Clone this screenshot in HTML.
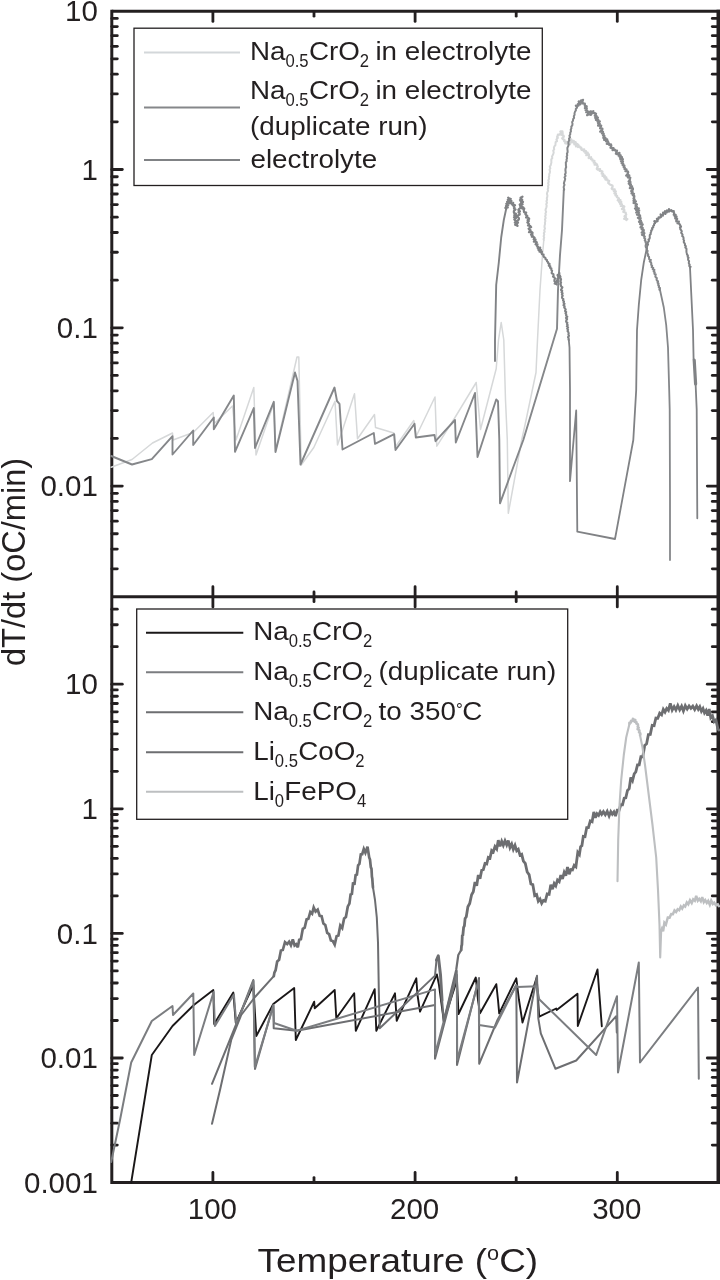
<!DOCTYPE html>
<html><head><meta charset="utf-8"><title>dT/dt vs Temperature</title>
<style>
html,body{margin:0;padding:0;background:#fff;width:720px;height:1280px;overflow:hidden}
svg{display:block}
text{font-family:'Liberation Sans',Arial,Helvetica,sans-serif}
</style></head><body>
<svg width="720" height="1280" viewBox="0 0 720 1280">
<rect width="720" height="1280" fill="#fff"/>
<g id="legends-bg"></g>
<g id="axes">
<line x1="111.80" y1="9.80" x2="111.80" y2="1184.00" stroke="#231f20" stroke-width="3.0" stroke-linecap="butt"/>
<line x1="718.30" y1="9.80" x2="718.30" y2="1184.00" stroke="#231f20" stroke-width="3.6" stroke-linecap="butt"/>
<line x1="111.80" y1="11.30" x2="720.00" y2="11.30" stroke="#231f20" stroke-width="3.0" stroke-linecap="butt"/>
<line x1="111.80" y1="596.80" x2="720.00" y2="596.80" stroke="#231f20" stroke-width="3.0" stroke-linecap="butt"/>
<line x1="111.80" y1="1182.50" x2="720.00" y2="1182.50" stroke="#231f20" stroke-width="3.0" stroke-linecap="butt"/>
<line x1="212.90" y1="11.30" x2="212.90" y2="21.40" stroke="#231f20" stroke-width="2.8" stroke-linecap="round"/>
<line x1="212.90" y1="586.70" x2="212.90" y2="606.90" stroke="#231f20" stroke-width="2.8" stroke-linecap="round"/>
<line x1="212.90" y1="1182.50" x2="212.90" y2="1172.40" stroke="#231f20" stroke-width="2.8" stroke-linecap="round"/>
<line x1="314.00" y1="11.30" x2="314.00" y2="16.20" stroke="#231f20" stroke-width="2.8" stroke-linecap="round"/>
<line x1="314.00" y1="591.90" x2="314.00" y2="601.70" stroke="#231f20" stroke-width="2.8" stroke-linecap="round"/>
<line x1="314.00" y1="1182.50" x2="314.00" y2="1177.60" stroke="#231f20" stroke-width="2.8" stroke-linecap="round"/>
<line x1="415.10" y1="11.30" x2="415.10" y2="21.40" stroke="#231f20" stroke-width="2.8" stroke-linecap="round"/>
<line x1="415.10" y1="586.70" x2="415.10" y2="606.90" stroke="#231f20" stroke-width="2.8" stroke-linecap="round"/>
<line x1="415.10" y1="1182.50" x2="415.10" y2="1172.40" stroke="#231f20" stroke-width="2.8" stroke-linecap="round"/>
<line x1="516.20" y1="11.30" x2="516.20" y2="16.20" stroke="#231f20" stroke-width="2.8" stroke-linecap="round"/>
<line x1="516.20" y1="591.90" x2="516.20" y2="601.70" stroke="#231f20" stroke-width="2.8" stroke-linecap="round"/>
<line x1="516.20" y1="1182.50" x2="516.20" y2="1177.60" stroke="#231f20" stroke-width="2.8" stroke-linecap="round"/>
<line x1="617.30" y1="11.30" x2="617.30" y2="21.40" stroke="#231f20" stroke-width="2.8" stroke-linecap="round"/>
<line x1="617.30" y1="586.70" x2="617.30" y2="606.90" stroke="#231f20" stroke-width="2.8" stroke-linecap="round"/>
<line x1="617.30" y1="1182.50" x2="617.30" y2="1172.40" stroke="#231f20" stroke-width="2.8" stroke-linecap="round"/>
<line x1="111.80" y1="568.87" x2="117.30" y2="568.87" stroke="#231f20" stroke-width="2.8" stroke-linecap="round"/>
<line x1="718.30" y1="568.87" x2="712.30" y2="568.87" stroke="#231f20" stroke-width="2.8" stroke-linecap="round"/>
<line x1="111.80" y1="549.09" x2="117.30" y2="549.09" stroke="#231f20" stroke-width="2.8" stroke-linecap="round"/>
<line x1="718.30" y1="549.09" x2="712.30" y2="549.09" stroke="#231f20" stroke-width="2.8" stroke-linecap="round"/>
<line x1="111.80" y1="533.75" x2="117.30" y2="533.75" stroke="#231f20" stroke-width="2.8" stroke-linecap="round"/>
<line x1="718.30" y1="533.75" x2="712.30" y2="533.75" stroke="#231f20" stroke-width="2.8" stroke-linecap="round"/>
<line x1="111.80" y1="521.22" x2="117.30" y2="521.22" stroke="#231f20" stroke-width="2.8" stroke-linecap="round"/>
<line x1="718.30" y1="521.22" x2="712.30" y2="521.22" stroke="#231f20" stroke-width="2.8" stroke-linecap="round"/>
<line x1="111.80" y1="510.62" x2="117.30" y2="510.62" stroke="#231f20" stroke-width="2.8" stroke-linecap="round"/>
<line x1="718.30" y1="510.62" x2="712.30" y2="510.62" stroke="#231f20" stroke-width="2.8" stroke-linecap="round"/>
<line x1="111.80" y1="501.44" x2="117.30" y2="501.44" stroke="#231f20" stroke-width="2.8" stroke-linecap="round"/>
<line x1="718.30" y1="501.44" x2="712.30" y2="501.44" stroke="#231f20" stroke-width="2.8" stroke-linecap="round"/>
<line x1="111.80" y1="493.34" x2="117.30" y2="493.34" stroke="#231f20" stroke-width="2.8" stroke-linecap="round"/>
<line x1="718.30" y1="493.34" x2="712.30" y2="493.34" stroke="#231f20" stroke-width="2.8" stroke-linecap="round"/>
<line x1="111.80" y1="486.10" x2="122.30" y2="486.10" stroke="#231f20" stroke-width="2.8" stroke-linecap="round"/>
<line x1="718.30" y1="486.10" x2="707.30" y2="486.10" stroke="#231f20" stroke-width="2.8" stroke-linecap="round"/>
<line x1="111.80" y1="438.45" x2="117.30" y2="438.45" stroke="#231f20" stroke-width="2.8" stroke-linecap="round"/>
<line x1="718.30" y1="438.45" x2="712.30" y2="438.45" stroke="#231f20" stroke-width="2.8" stroke-linecap="round"/>
<line x1="111.80" y1="410.57" x2="117.30" y2="410.57" stroke="#231f20" stroke-width="2.8" stroke-linecap="round"/>
<line x1="718.30" y1="410.57" x2="712.30" y2="410.57" stroke="#231f20" stroke-width="2.8" stroke-linecap="round"/>
<line x1="111.80" y1="390.79" x2="117.30" y2="390.79" stroke="#231f20" stroke-width="2.8" stroke-linecap="round"/>
<line x1="718.30" y1="390.79" x2="712.30" y2="390.79" stroke="#231f20" stroke-width="2.8" stroke-linecap="round"/>
<line x1="111.80" y1="375.45" x2="117.30" y2="375.45" stroke="#231f20" stroke-width="2.8" stroke-linecap="round"/>
<line x1="718.30" y1="375.45" x2="712.30" y2="375.45" stroke="#231f20" stroke-width="2.8" stroke-linecap="round"/>
<line x1="111.80" y1="362.92" x2="117.30" y2="362.92" stroke="#231f20" stroke-width="2.8" stroke-linecap="round"/>
<line x1="718.30" y1="362.92" x2="712.30" y2="362.92" stroke="#231f20" stroke-width="2.8" stroke-linecap="round"/>
<line x1="111.80" y1="352.32" x2="117.30" y2="352.32" stroke="#231f20" stroke-width="2.8" stroke-linecap="round"/>
<line x1="718.30" y1="352.32" x2="712.30" y2="352.32" stroke="#231f20" stroke-width="2.8" stroke-linecap="round"/>
<line x1="111.80" y1="343.14" x2="117.30" y2="343.14" stroke="#231f20" stroke-width="2.8" stroke-linecap="round"/>
<line x1="718.30" y1="343.14" x2="712.30" y2="343.14" stroke="#231f20" stroke-width="2.8" stroke-linecap="round"/>
<line x1="111.80" y1="335.04" x2="117.30" y2="335.04" stroke="#231f20" stroke-width="2.8" stroke-linecap="round"/>
<line x1="718.30" y1="335.04" x2="712.30" y2="335.04" stroke="#231f20" stroke-width="2.8" stroke-linecap="round"/>
<line x1="111.80" y1="327.80" x2="122.30" y2="327.80" stroke="#231f20" stroke-width="2.8" stroke-linecap="round"/>
<line x1="718.30" y1="327.80" x2="707.30" y2="327.80" stroke="#231f20" stroke-width="2.8" stroke-linecap="round"/>
<line x1="111.80" y1="280.15" x2="117.30" y2="280.15" stroke="#231f20" stroke-width="2.8" stroke-linecap="round"/>
<line x1="718.30" y1="280.15" x2="712.30" y2="280.15" stroke="#231f20" stroke-width="2.8" stroke-linecap="round"/>
<line x1="111.80" y1="252.27" x2="117.30" y2="252.27" stroke="#231f20" stroke-width="2.8" stroke-linecap="round"/>
<line x1="718.30" y1="252.27" x2="712.30" y2="252.27" stroke="#231f20" stroke-width="2.8" stroke-linecap="round"/>
<line x1="111.80" y1="232.49" x2="117.30" y2="232.49" stroke="#231f20" stroke-width="2.8" stroke-linecap="round"/>
<line x1="718.30" y1="232.49" x2="712.30" y2="232.49" stroke="#231f20" stroke-width="2.8" stroke-linecap="round"/>
<line x1="111.80" y1="217.15" x2="117.30" y2="217.15" stroke="#231f20" stroke-width="2.8" stroke-linecap="round"/>
<line x1="718.30" y1="217.15" x2="712.30" y2="217.15" stroke="#231f20" stroke-width="2.8" stroke-linecap="round"/>
<line x1="111.80" y1="204.62" x2="117.30" y2="204.62" stroke="#231f20" stroke-width="2.8" stroke-linecap="round"/>
<line x1="718.30" y1="204.62" x2="712.30" y2="204.62" stroke="#231f20" stroke-width="2.8" stroke-linecap="round"/>
<line x1="111.80" y1="194.02" x2="117.30" y2="194.02" stroke="#231f20" stroke-width="2.8" stroke-linecap="round"/>
<line x1="718.30" y1="194.02" x2="712.30" y2="194.02" stroke="#231f20" stroke-width="2.8" stroke-linecap="round"/>
<line x1="111.80" y1="184.84" x2="117.30" y2="184.84" stroke="#231f20" stroke-width="2.8" stroke-linecap="round"/>
<line x1="718.30" y1="184.84" x2="712.30" y2="184.84" stroke="#231f20" stroke-width="2.8" stroke-linecap="round"/>
<line x1="111.80" y1="176.74" x2="117.30" y2="176.74" stroke="#231f20" stroke-width="2.8" stroke-linecap="round"/>
<line x1="718.30" y1="176.74" x2="712.30" y2="176.74" stroke="#231f20" stroke-width="2.8" stroke-linecap="round"/>
<line x1="111.80" y1="169.50" x2="122.30" y2="169.50" stroke="#231f20" stroke-width="2.8" stroke-linecap="round"/>
<line x1="718.30" y1="169.50" x2="707.30" y2="169.50" stroke="#231f20" stroke-width="2.8" stroke-linecap="round"/>
<line x1="111.80" y1="121.85" x2="117.30" y2="121.85" stroke="#231f20" stroke-width="2.8" stroke-linecap="round"/>
<line x1="718.30" y1="121.85" x2="712.30" y2="121.85" stroke="#231f20" stroke-width="2.8" stroke-linecap="round"/>
<line x1="111.80" y1="93.97" x2="117.30" y2="93.97" stroke="#231f20" stroke-width="2.8" stroke-linecap="round"/>
<line x1="718.30" y1="93.97" x2="712.30" y2="93.97" stroke="#231f20" stroke-width="2.8" stroke-linecap="round"/>
<line x1="111.80" y1="74.19" x2="117.30" y2="74.19" stroke="#231f20" stroke-width="2.8" stroke-linecap="round"/>
<line x1="718.30" y1="74.19" x2="712.30" y2="74.19" stroke="#231f20" stroke-width="2.8" stroke-linecap="round"/>
<line x1="111.80" y1="58.85" x2="117.30" y2="58.85" stroke="#231f20" stroke-width="2.8" stroke-linecap="round"/>
<line x1="718.30" y1="58.85" x2="712.30" y2="58.85" stroke="#231f20" stroke-width="2.8" stroke-linecap="round"/>
<line x1="111.80" y1="46.32" x2="117.30" y2="46.32" stroke="#231f20" stroke-width="2.8" stroke-linecap="round"/>
<line x1="718.30" y1="46.32" x2="712.30" y2="46.32" stroke="#231f20" stroke-width="2.8" stroke-linecap="round"/>
<line x1="111.80" y1="35.72" x2="117.30" y2="35.72" stroke="#231f20" stroke-width="2.8" stroke-linecap="round"/>
<line x1="718.30" y1="35.72" x2="712.30" y2="35.72" stroke="#231f20" stroke-width="2.8" stroke-linecap="round"/>
<line x1="111.80" y1="26.54" x2="117.30" y2="26.54" stroke="#231f20" stroke-width="2.8" stroke-linecap="round"/>
<line x1="718.30" y1="26.54" x2="712.30" y2="26.54" stroke="#231f20" stroke-width="2.8" stroke-linecap="round"/>
<line x1="111.80" y1="18.44" x2="117.30" y2="18.44" stroke="#231f20" stroke-width="2.8" stroke-linecap="round"/>
<line x1="718.30" y1="18.44" x2="712.30" y2="18.44" stroke="#231f20" stroke-width="2.8" stroke-linecap="round"/>
<line x1="111.80" y1="1145.09" x2="117.30" y2="1145.09" stroke="#231f20" stroke-width="2.8" stroke-linecap="round"/>
<line x1="718.30" y1="1145.09" x2="712.30" y2="1145.09" stroke="#231f20" stroke-width="2.8" stroke-linecap="round"/>
<line x1="111.80" y1="1123.15" x2="117.30" y2="1123.15" stroke="#231f20" stroke-width="2.8" stroke-linecap="round"/>
<line x1="718.30" y1="1123.15" x2="712.30" y2="1123.15" stroke="#231f20" stroke-width="2.8" stroke-linecap="round"/>
<line x1="111.80" y1="1107.58" x2="117.30" y2="1107.58" stroke="#231f20" stroke-width="2.8" stroke-linecap="round"/>
<line x1="718.30" y1="1107.58" x2="712.30" y2="1107.58" stroke="#231f20" stroke-width="2.8" stroke-linecap="round"/>
<line x1="111.80" y1="1095.51" x2="117.30" y2="1095.51" stroke="#231f20" stroke-width="2.8" stroke-linecap="round"/>
<line x1="718.30" y1="1095.51" x2="712.30" y2="1095.51" stroke="#231f20" stroke-width="2.8" stroke-linecap="round"/>
<line x1="111.80" y1="1085.64" x2="117.30" y2="1085.64" stroke="#231f20" stroke-width="2.8" stroke-linecap="round"/>
<line x1="718.30" y1="1085.64" x2="712.30" y2="1085.64" stroke="#231f20" stroke-width="2.8" stroke-linecap="round"/>
<line x1="111.80" y1="1077.30" x2="117.30" y2="1077.30" stroke="#231f20" stroke-width="2.8" stroke-linecap="round"/>
<line x1="718.30" y1="1077.30" x2="712.30" y2="1077.30" stroke="#231f20" stroke-width="2.8" stroke-linecap="round"/>
<line x1="111.80" y1="1070.07" x2="117.30" y2="1070.07" stroke="#231f20" stroke-width="2.8" stroke-linecap="round"/>
<line x1="718.30" y1="1070.07" x2="712.30" y2="1070.07" stroke="#231f20" stroke-width="2.8" stroke-linecap="round"/>
<line x1="111.80" y1="1063.70" x2="117.30" y2="1063.70" stroke="#231f20" stroke-width="2.8" stroke-linecap="round"/>
<line x1="718.30" y1="1063.70" x2="712.30" y2="1063.70" stroke="#231f20" stroke-width="2.8" stroke-linecap="round"/>
<line x1="111.80" y1="1058.00" x2="122.30" y2="1058.00" stroke="#231f20" stroke-width="2.8" stroke-linecap="round"/>
<line x1="718.30" y1="1058.00" x2="707.30" y2="1058.00" stroke="#231f20" stroke-width="2.8" stroke-linecap="round"/>
<line x1="111.80" y1="1020.49" x2="117.30" y2="1020.49" stroke="#231f20" stroke-width="2.8" stroke-linecap="round"/>
<line x1="718.30" y1="1020.49" x2="712.30" y2="1020.49" stroke="#231f20" stroke-width="2.8" stroke-linecap="round"/>
<line x1="111.80" y1="998.55" x2="117.30" y2="998.55" stroke="#231f20" stroke-width="2.8" stroke-linecap="round"/>
<line x1="718.30" y1="998.55" x2="712.30" y2="998.55" stroke="#231f20" stroke-width="2.8" stroke-linecap="round"/>
<line x1="111.80" y1="982.98" x2="117.30" y2="982.98" stroke="#231f20" stroke-width="2.8" stroke-linecap="round"/>
<line x1="718.30" y1="982.98" x2="712.30" y2="982.98" stroke="#231f20" stroke-width="2.8" stroke-linecap="round"/>
<line x1="111.80" y1="970.91" x2="117.30" y2="970.91" stroke="#231f20" stroke-width="2.8" stroke-linecap="round"/>
<line x1="718.30" y1="970.91" x2="712.30" y2="970.91" stroke="#231f20" stroke-width="2.8" stroke-linecap="round"/>
<line x1="111.80" y1="961.04" x2="117.30" y2="961.04" stroke="#231f20" stroke-width="2.8" stroke-linecap="round"/>
<line x1="718.30" y1="961.04" x2="712.30" y2="961.04" stroke="#231f20" stroke-width="2.8" stroke-linecap="round"/>
<line x1="111.80" y1="952.70" x2="117.30" y2="952.70" stroke="#231f20" stroke-width="2.8" stroke-linecap="round"/>
<line x1="718.30" y1="952.70" x2="712.30" y2="952.70" stroke="#231f20" stroke-width="2.8" stroke-linecap="round"/>
<line x1="111.80" y1="945.47" x2="117.30" y2="945.47" stroke="#231f20" stroke-width="2.8" stroke-linecap="round"/>
<line x1="718.30" y1="945.47" x2="712.30" y2="945.47" stroke="#231f20" stroke-width="2.8" stroke-linecap="round"/>
<line x1="111.80" y1="939.10" x2="117.30" y2="939.10" stroke="#231f20" stroke-width="2.8" stroke-linecap="round"/>
<line x1="718.30" y1="939.10" x2="712.30" y2="939.10" stroke="#231f20" stroke-width="2.8" stroke-linecap="round"/>
<line x1="111.80" y1="933.40" x2="122.30" y2="933.40" stroke="#231f20" stroke-width="2.8" stroke-linecap="round"/>
<line x1="718.30" y1="933.40" x2="707.30" y2="933.40" stroke="#231f20" stroke-width="2.8" stroke-linecap="round"/>
<line x1="111.80" y1="895.89" x2="117.30" y2="895.89" stroke="#231f20" stroke-width="2.8" stroke-linecap="round"/>
<line x1="718.30" y1="895.89" x2="712.30" y2="895.89" stroke="#231f20" stroke-width="2.8" stroke-linecap="round"/>
<line x1="111.80" y1="873.95" x2="117.30" y2="873.95" stroke="#231f20" stroke-width="2.8" stroke-linecap="round"/>
<line x1="718.30" y1="873.95" x2="712.30" y2="873.95" stroke="#231f20" stroke-width="2.8" stroke-linecap="round"/>
<line x1="111.80" y1="858.38" x2="117.30" y2="858.38" stroke="#231f20" stroke-width="2.8" stroke-linecap="round"/>
<line x1="718.30" y1="858.38" x2="712.30" y2="858.38" stroke="#231f20" stroke-width="2.8" stroke-linecap="round"/>
<line x1="111.80" y1="846.31" x2="117.30" y2="846.31" stroke="#231f20" stroke-width="2.8" stroke-linecap="round"/>
<line x1="718.30" y1="846.31" x2="712.30" y2="846.31" stroke="#231f20" stroke-width="2.8" stroke-linecap="round"/>
<line x1="111.80" y1="836.44" x2="117.30" y2="836.44" stroke="#231f20" stroke-width="2.8" stroke-linecap="round"/>
<line x1="718.30" y1="836.44" x2="712.30" y2="836.44" stroke="#231f20" stroke-width="2.8" stroke-linecap="round"/>
<line x1="111.80" y1="828.10" x2="117.30" y2="828.10" stroke="#231f20" stroke-width="2.8" stroke-linecap="round"/>
<line x1="718.30" y1="828.10" x2="712.30" y2="828.10" stroke="#231f20" stroke-width="2.8" stroke-linecap="round"/>
<line x1="111.80" y1="820.87" x2="117.30" y2="820.87" stroke="#231f20" stroke-width="2.8" stroke-linecap="round"/>
<line x1="718.30" y1="820.87" x2="712.30" y2="820.87" stroke="#231f20" stroke-width="2.8" stroke-linecap="round"/>
<line x1="111.80" y1="814.50" x2="117.30" y2="814.50" stroke="#231f20" stroke-width="2.8" stroke-linecap="round"/>
<line x1="718.30" y1="814.50" x2="712.30" y2="814.50" stroke="#231f20" stroke-width="2.8" stroke-linecap="round"/>
<line x1="111.80" y1="808.80" x2="122.30" y2="808.80" stroke="#231f20" stroke-width="2.8" stroke-linecap="round"/>
<line x1="718.30" y1="808.80" x2="707.30" y2="808.80" stroke="#231f20" stroke-width="2.8" stroke-linecap="round"/>
<line x1="111.80" y1="771.29" x2="117.30" y2="771.29" stroke="#231f20" stroke-width="2.8" stroke-linecap="round"/>
<line x1="718.30" y1="771.29" x2="712.30" y2="771.29" stroke="#231f20" stroke-width="2.8" stroke-linecap="round"/>
<line x1="111.80" y1="749.35" x2="117.30" y2="749.35" stroke="#231f20" stroke-width="2.8" stroke-linecap="round"/>
<line x1="718.30" y1="749.35" x2="712.30" y2="749.35" stroke="#231f20" stroke-width="2.8" stroke-linecap="round"/>
<line x1="111.80" y1="733.78" x2="117.30" y2="733.78" stroke="#231f20" stroke-width="2.8" stroke-linecap="round"/>
<line x1="718.30" y1="733.78" x2="712.30" y2="733.78" stroke="#231f20" stroke-width="2.8" stroke-linecap="round"/>
<line x1="111.80" y1="721.71" x2="117.30" y2="721.71" stroke="#231f20" stroke-width="2.8" stroke-linecap="round"/>
<line x1="718.30" y1="721.71" x2="712.30" y2="721.71" stroke="#231f20" stroke-width="2.8" stroke-linecap="round"/>
<line x1="111.80" y1="711.84" x2="117.30" y2="711.84" stroke="#231f20" stroke-width="2.8" stroke-linecap="round"/>
<line x1="718.30" y1="711.84" x2="712.30" y2="711.84" stroke="#231f20" stroke-width="2.8" stroke-linecap="round"/>
<line x1="111.80" y1="703.50" x2="117.30" y2="703.50" stroke="#231f20" stroke-width="2.8" stroke-linecap="round"/>
<line x1="718.30" y1="703.50" x2="712.30" y2="703.50" stroke="#231f20" stroke-width="2.8" stroke-linecap="round"/>
<line x1="111.80" y1="696.27" x2="117.30" y2="696.27" stroke="#231f20" stroke-width="2.8" stroke-linecap="round"/>
<line x1="718.30" y1="696.27" x2="712.30" y2="696.27" stroke="#231f20" stroke-width="2.8" stroke-linecap="round"/>
<line x1="111.80" y1="689.90" x2="117.30" y2="689.90" stroke="#231f20" stroke-width="2.8" stroke-linecap="round"/>
<line x1="718.30" y1="689.90" x2="712.30" y2="689.90" stroke="#231f20" stroke-width="2.8" stroke-linecap="round"/>
<line x1="111.80" y1="684.20" x2="122.30" y2="684.20" stroke="#231f20" stroke-width="2.8" stroke-linecap="round"/>
<line x1="718.30" y1="684.20" x2="707.30" y2="684.20" stroke="#231f20" stroke-width="2.8" stroke-linecap="round"/>
<line x1="111.80" y1="646.69" x2="117.30" y2="646.69" stroke="#231f20" stroke-width="2.8" stroke-linecap="round"/>
<line x1="718.30" y1="646.69" x2="712.30" y2="646.69" stroke="#231f20" stroke-width="2.8" stroke-linecap="round"/>
<line x1="111.80" y1="624.75" x2="117.30" y2="624.75" stroke="#231f20" stroke-width="2.8" stroke-linecap="round"/>
<line x1="718.30" y1="624.75" x2="712.30" y2="624.75" stroke="#231f20" stroke-width="2.8" stroke-linecap="round"/>
<line x1="111.80" y1="609.18" x2="117.30" y2="609.18" stroke="#231f20" stroke-width="2.8" stroke-linecap="round"/>
<line x1="718.30" y1="609.18" x2="712.30" y2="609.18" stroke="#231f20" stroke-width="2.8" stroke-linecap="round"/>
</g>
<g id="curves">
<path d="M111.2 467.2 L132.0 459.5 L152.5 443.0 L172.5 433.0 L173.0 440.0 L193.2 432.5 L213.2 412.5 L213.8 424.0 L232.5 406.0 L236.0 440.0 L253.8 387.5 L256.0 455.0 L273.9 403.0 L275.5 451.0 L297.0 357.0 L298.8 357.0 L301.2 465.0 L313.8 447.5 L335.0 401.2 L337.5 445.0 L354.5 393.8 L357.5 438.8 L374.5 414.5 L375.5 427.5 L393.8 433.0 L395.0 447.5 L413.8 420.5 L416.2 436.2 L435.0 397.0 L436.8 446.2 L455.0 417.5 L476.2 382.5 L480.5 429.5 L496.2 368.8 L498.5 340.0 L501.2 322.5 L503.8 340.0 L505.5 400.0 L507.3 440.0 L508.3 513.3 L521.7 440.0 L525.0 425.0 L536.0 372.5 L537.5 340.0 L540.0 290.0 L542.5 255.0 L543.8 240.0" fill="none" stroke="#d6d8d9" stroke-width="1.5" stroke-linejoin="round" stroke-miterlimit="3" stroke-linecap="round" />
<path d="M543.8 240.0 L543.6 239.2 L544.2 237.7 L543.6 236.2 L544.3 234.7 L543.8 233.1 L544.7 231.7 L544.2 230.1 L545.0 228.6 L544.5 227.1 L544.6 225.5 L545.1 224.0 L544.9 222.5 L545.4 221.0 L544.9 219.4 L545.7 218.0 L545.1 216.4 L545.8 214.9 L545.4 213.4 L546.2 211.9 L545.5 210.3 L545.8 208.8 L546.4 207.3 L546.7 205.8 L546.2 204.2 L547.0 202.8 L546.4 201.2 L547.1 199.8 L546.8 198.2 L547.3 196.8 L547.4 195.3 L546.9 193.7 L547.3 192.2 L548.1 190.8 L547.7 189.2 L548.3 187.8 L548.0 186.2 L548.6 184.8 L548.1 183.2 L548.7 181.8 L548.3 180.2 L549.1 178.8 L548.8 177.2 L549.3 175.8 L549.2 174.2 L549.8 172.8 L550.0 171.3 L549.5 169.7 L550.4 168.3 L549.7 166.7 L550.7 165.4 L551.0 163.9 L551.4 162.5 L551.3 160.9 L551.3 159.4 L552.3 158.1 L552.0 156.5 L552.8 155.1 L553.4 153.7 L553.7 152.3 L553.2 150.7 L554.2 149.4 L553.9 147.8 L554.3 146.4 L555.4 145.2 L555.5 143.7 L555.6 142.2 L557.1 141.2 L556.4 139.5 L557.6 138.3 L557.5 137.5" fill="none" stroke="#d6d8d9" stroke-width="2.0" stroke-linejoin="round" stroke-miterlimit="3" stroke-linecap="round" />
<path d="M557.5 137.5 L557.2 136.7 L557.7 135.8 L557.9 134.7 L559.8 134.6 L560.3 133.7 L561.3 133.1 L560.4 131.4 L562.4 131.4 L562.5 132.5 L562.6 133.6 L561.9 135.0 L563.5 135.6 L563.8 136.7 L562.2 138.3 L563.0 139.2 L564.4 139.8 L564.2 141.1 L565.6 141.7 L565.3 143.3 L566.8 141.9 L567.2 143.8 L568.5 142.8 L570.0 144.3 L569.3 142.0 L571.2 142.4 L570.4 140.2 L571.2 139.4 L571.7 141.2 L573.8 141.0 L573.4 142.6 L575.6 142.2 L574.4 144.4 L577.0 143.8 L576.0 146.4 L578.3 144.6 L578.1 147.0 L579.6 146.4 L580.1 147.7 L581.3 147.7 L581.4 149.6 L581.9 149.9 L584.2 149.5 L583.8 151.3 L586.0 151.1 L585.4 153.0 L587.7 152.7 L586.3 155.2 L588.9 154.5 L589.0 156.0 L588.7 158.0 L591.1 157.3 L590.9 159.1 L592.4 159.3 L592.4 160.7 L594.4 160.8 L593.7 162.6 L595.4 162.8 L594.6 164.7 L597.0 164.4 L597.2 165.7 L597.8 166.6 L596.8 168.8 L597.7 169.5 L600.1 169.1 L599.7 170.8 L601.3 171.1 L602.4 171.6 L601.7 173.6 L603.2 173.9 L602.5 175.9 L604.7 175.6 L604.2 177.5 L606.3 177.3 L605.4 179.5 L607.4 179.3 L607.6 180.6 L609.2 180.9 L608.2 182.9 L609.1 183.7 L609.9 184.5 L611.2 185.0 L612.4 185.5 L612.6 186.8 L611.7 188.5 L612.4 189.4 L614.7 189.5 L613.9 191.2 L615.8 191.5 L614.4 193.4 L616.0 193.9 L615.5 195.4 L617.1 195.8 L616.9 197.2 L618.2 197.7 L618.9 198.5 L617.7 200.3 L620.5 200.1 L619.1 202.0 L621.3 202.0 L620.0 203.9 L621.9 204.1 L620.8 205.9 L623.1 205.9 L624.3 206.6 L621.9 209.0 L624.0 209.2 L624.4 210.4 L623.3 211.9 L625.6 212.5 L625.8 213.6 L626.2 214.7 L624.5 216.3 L626.0 217.1 L624.1 218.8 L627.3 219.1 L626.2 220.0" fill="none" stroke="#d6d8d9" stroke-width="2.3" stroke-linejoin="round" stroke-miterlimit="3" stroke-linecap="round" />
<path d="M111.2 456.0 L132.0 464.5 L151.8 459.2 L172.5 436.2 L172.5 454.5 L193.2 430.5 L193.2 445.0 L213.8 417.5 L213.8 429.2 L233.8 395.5 L235.0 451.8 L253.8 408.0 L255.0 448.0 L273.8 401.8 L275.5 452.0 L295.0 372.5 L297.5 381.0 L300.5 464.5 L334.5 387.5 L337.0 401.0 L339.5 403.8 L342.5 449.5 L373.8 433.0 L375.0 443.8 L394.2 434.2 L395.5 450.0 L414.5 423.8 L415.8 437.5 L434.5 435.0 L435.5 441.2 L455.0 420.0 L455.8 442.5 L475.0 393.0 L477.5 457.0 L496.2 399.5 L498.0 401.2 L499.3 440.0 L500.0 503.3 L523.3 440.0 L557.0 328.8 L558.0 290.0 L560.0 255.0 L562.0 230.0 L563.8 190.0" fill="none" stroke="#85878a" stroke-width="1.9" stroke-linejoin="round" stroke-miterlimit="3" stroke-linecap="round" />
<path d="M563.8 190.0 L564.2 189.3 L563.7 187.8 L563.8 186.3 L564.5 184.8 L563.9 183.3 L564.3 181.8 L564.8 180.4 L565.2 178.9 L564.5 177.4 L565.6 176.0 L564.9 174.4 L565.7 173.0 L565.6 171.5 L565.4 170.0 L565.6 168.5 L566.2 167.1 L565.9 165.5 L565.9 164.0 L565.8 162.5 L566.7 161.1 L566.5 159.6 L567.1 158.2 L566.6 156.6 L567.3 155.2 L566.9 153.7 L567.6 152.3 L567.6 150.8 L567.4 149.2 L567.4 147.7 L568.2 146.3 L568.7 144.8 L568.4 143.2 L568.4 141.7 L569.3 140.3 L569.0 138.7 L570.0 137.3 L569.4 135.7 L570.3 134.3 L570.2 132.7 L571.0 131.3 L570.7 129.7 L571.4 128.3 L571.3 126.7 L572.3 125.4 L572.5 123.8 L572.1 122.1 L573.0 120.8 L573.1 119.2 L574.1 117.9 L573.8 116.2 L574.6 114.8 L574.5 113.2 L575.0 111.7 L575.9 110.5 L575.8 108.9 L576.9 107.8 L577.0 107.0" fill="none" stroke="#85878a" stroke-width="2.0" stroke-linejoin="round" stroke-miterlimit="3" stroke-linecap="round" />
<path d="M577.0 107.0 L575.9 105.7 L578.4 105.7 L577.9 104.0 L580.2 104.3 L578.7 101.4 L581.0 102.0 L581.1 100.5 L582.7 100.5 L583.0 99.9 L581.5 101.5 L582.7 102.2 L582.3 103.4 L584.8 103.7 L584.8 104.8 L584.9 105.9 L586.7 106.4 L584.9 108.1 L586.8 108.3 L585.6 110.1 L587.2 110.5 L586.2 112.2 L588.9 112.0 L588.4 113.4 L587.1 115.2 L588.7 114.2 L591.0 114.8 L591.5 113.9 L590.6 111.4 L592.7 111.9 L593.3 111.2 L592.9 112.8 L594.7 113.1 L596.0 113.7 L594.8 115.7 L596.5 116.0 L595.2 117.8 L597.9 117.7 L595.9 119.8 L598.3 119.8 L597.5 121.4 L599.8 121.4 L598.1 123.3 L599.8 123.8 L598.1 125.6 L601.2 125.6 L600.6 127.0 L600.1 128.3 L602.4 128.7 L602.2 129.9 L600.2 131.7 L603.0 131.9 L601.9 133.4 L603.7 133.7 L603.0 135.4 L604.4 135.9 L603.3 137.8 L605.4 137.9 L604.1 139.9 L607.2 139.5 L606.0 141.4 L608.1 141.5 L606.8 143.8 L609.0 143.4 L609.0 144.8 L611.0 144.5 L611.3 145.7 L610.5 147.7 L611.7 148.2 L613.5 148.1 L612.6 150.2 L614.8 149.6 L615.4 150.6 L617.0 150.6 L615.9 153.7 L617.1 154.1 L619.5 152.9 L618.7 155.7 L620.7 155.3 L619.7 156.8 L622.0 157.2 L620.2 158.9 L622.9 159.2 L620.9 160.9 L623.0 161.4 L621.5 163.0 L623.2 163.6 L622.6 164.9 L624.4 165.5 L623.6 166.9 L624.8 167.6 L624.5 169.0 L626.5 169.3 L625.4 171.0 L627.7 171.3 L628.2 172.2 L627.7 173.7 L626.2 175.6 L629.3 175.4 L627.8 177.3 L630.3 177.7 L629.6 179.0 L630.0 180.0 L628.6 181.5 L630.5 182.2 L628.8 183.7 L630.9 184.4 L630.0 185.7 L632.1 186.3 L629.8 188.1 L632.9 188.4 L632.9 189.6 L631.2 191.1 L632.7 191.9 L631.5 193.3 L634.0 193.8 L632.8 195.3 L634.3 196.0 L634.2 197.2 L633.5 198.5 L634.7 199.4 L633.5 200.8 L635.9 201.3 L633.6 203.0 L635.7 203.6 L636.9 204.5 L635.5 206.0 L636.9 206.8 L635.0 208.5 L638.8 208.4 L636.2 210.3 L639.2 210.6 L636.2 212.6 L639.0 212.9 L637.0 214.7 L639.6 215.0 L640.2 216.0 L637.9 217.8 L640.7 218.1 L639.4 219.6 L640.9 220.4 L639.0 221.9 L641.7 222.4 L640.0 224.0 L642.7 224.4 L641.8 225.8 L640.5 227.3 L642.7 227.9 L641.7 229.3 L643.7 229.9 L643.7 231.0 L641.7 232.7 L644.4 233.1 L642.0 234.9 L643.8 235.0" fill="none" stroke="#85878a" stroke-width="2.3" stroke-linejoin="round" stroke-miterlimit="3" stroke-linecap="round" />
<path d="M643.8 235.0 L643.6 235.7 L644.8 236.6 L644.2 238.0 L645.2 239.0 L644.8 240.4 L645.8 241.4 L645.6 242.7 L646.4 243.7 L645.7 245.1 L645.7 246.4 L646.0 247.5 L647.0 248.6 L646.7 249.9 L647.6 250.9 L647.2 252.2 L647.4 253.4 L648.2 254.5 L647.8 255.8 L649.0 256.8 L649.1 258.0 L649.2 259.2 L650.8 259.9 L649.8 261.5 L651.0 262.4 L651.3 263.5 L651.2 264.8 L652.1 265.8 L651.7 267.1 L653.2 267.9 L652.8 269.3 L654.4 269.9 L653.7 271.5 L654.7 272.4 L654.4 273.8 L655.7 274.5 L655.3 275.9 L655.6 277.1 L656.8 278.0 L656.6 279.3 L656.8 280.4 L658.0 281.3 L657.6 282.7 L658.5 283.6 L658.2 285.0 L659.0 286.0 L658.8 287.3 L660.0 288.1 L659.4 289.6 L660.0 290.0" fill="none" stroke="#85878a" stroke-width="2.1" stroke-linejoin="round" stroke-miterlimit="3" stroke-linecap="round" />
<path d="M660.0 290.0 L663.8 307.5 L666.2 325.0 L668.0 347.5 L669.2 390.0 L669.7 409.4 L670.0 500.0 L670.0 560.0" fill="none" stroke="#85878a" stroke-width="1.8" stroke-linejoin="round" stroke-miterlimit="3" stroke-linecap="round" />
<path d="M495.0 361.0 L495.0 340.0 L496.2 285.0 L498.8 262.5 L501.2 237.5 L503.8 220.0 L506.2 208.8" fill="none" stroke="#808285" stroke-width="1.9" stroke-linejoin="round" stroke-miterlimit="3" stroke-linecap="round" />
<path d="M506.2 208.8 L505.4 207.9 L507.8 207.5 L506.0 205.9 L508.2 205.4 L506.3 203.8 L509.0 203.4 L507.1 201.8 L509.5 201.4 L507.8 199.8 L510.5 199.4 L508.2 197.7 L509.1 198.2 L510.8 198.9 L508.8 200.5 L511.5 201.0 L508.6 202.8 L511.3 203.4 L511.4 203.1 L512.5 204.8 L513.2 202.8 L513.1 204.4 L515.0 205.2 L513.6 206.5 L514.5 207.5 L514.0 208.6 L515.5 209.5 L514.0 210.8 L513.8 211.9 L514.0 212.9 L516.0 213.8 L514.2 215.1 L516.5 215.9 L514.0 217.3 L516.0 218.1 L514.3 219.4 L515.0 220.4 L516.5 221.3 L514.8 222.6 L516.6 223.5 L515.1 224.8 L517.5 225.6 L517.5 225.9 L516.2 224.5 L517.2 223.5 L518.0 222.5 L516.8 221.1 L518.1 220.2 L518.9 219.2 L518.9 218.0 L516.9 216.4 L517.9 215.5 L519.7 214.6 L519.6 213.5 L518.5 212.2 L519.9 211.3 L518.4 209.9 L519.1 208.9 L520.5 208.0 L520.4 206.8 L520.2 205.7 L519.7 204.5 L521.5 203.6 L521.2 202.4 L520.8 201.3 L520.0 200.0 L521.6 199.1 L520.5 197.8 L522.1 196.9 L522.5 196.7 L520.8 197.9 L520.5 199.0 L522.3 199.9 L520.8 201.2 L523.0 202.0 L521.7 203.2 L522.6 204.2 L521.2 205.4 L521.4 206.5 L523.5 207.4 L522.4 208.7 L524.3 208.5 L523.8 210.2 L523.9 211.5 L524.1 212.2 L526.2 212.6 L525.3 214.1 L526.1 215.0 L527.3 215.8 L526.1 217.5 L528.3 217.9 L529.2 218.8 L527.6 220.2 L528.9 221.0 L527.4 222.4 L528.3 223.3 L529.1 224.2 L528.0 225.5 L530.4 226.1 L531.1 227.1 L528.6 228.6 L529.3 229.6 L530.6 230.3 L529.0 232.2 L532.0 232.0 L532.6 232.9 L531.0 234.7 L532.7 235.2 L531.8 236.7 L533.8 237.0 L534.6 237.8 L533.7 239.4 L535.6 239.5 L533.9 241.7 L536.2 241.6 L536.8 242.4 L535.6 244.3 L537.5 244.4 L536.9 245.9 L537.9 246.6 L537.6 247.9 L540.2 247.7 L538.4 249.8 L540.9 249.8 L539.5 251.6 L541.9 251.6 L541.2 252.5" fill="none" stroke="#808285" stroke-width="2.2" stroke-linejoin="round" stroke-miterlimit="3" stroke-linecap="round" />
<path d="M541.2 252.5 L541.8 252.8 L541.9 254.3 L543.6 254.6 L543.5 256.3 L544.3 257.3 L545.5 257.9 L545.5 259.3 L546.9 259.9 L547.0 261.2 L548.0 262.1 L548.2 263.3 L549.6 264.0 L548.8 265.7 L550.3 266.3 L550.0 267.7 L551.4 268.4 L551.2 269.8 L552.1 270.7 L551.7 272.2 L551.7 273.3 L553.4 274.1 L553.6 275.3 L553.0 276.7 L554.4 277.5 L555.0 278.6 L554.4 280.0 L554.4 281.2 L556.0 282.0 L554.7 283.6 L556.6 284.3 L556.7 284.5 L556.4 283.3 L557.0 282.2 L556.8 281.0 L557.4 279.9 L557.3 278.7 L558.4 277.7 L558.2 276.5 L557.5 275.2 L558.8 274.3 L559.0 273.1 L559.4 272.9 L559.3 274.6 L559.8 275.6 L560.5 276.7 L560.1 278.0 L561.1 279.1 L560.8 280.3 L560.5 281.5 L561.1 282.7 L560.3 284.0 L560.9 285.1 L561.1 286.3 L562.4 287.3 L561.8 288.6 L561.0 289.9 L562.2 290.9 L561.5 292.2 L562.6 293.3 L561.9 294.6 L562.7 295.7 L562.0 297.0 L562.2 298.2 L563.4 299.1 L563.0 300.5 L564.0 301.5 L563.5 302.8 L564.5 303.8 L563.5 305.2 L564.7 306.2 L564.2 307.5 L565.1 308.5 L565.7 309.6 L565.0 311.0 L566.2 312.0 L565.5 313.3 L566.3 314.4 L566.1 315.6 L567.3 316.7 L566.0 318.0 L567.1 319.1 L566.3 320.4 L566.1 321.6 L567.4 322.7 L566.9 323.9 L567.7 325.1 L566.9 326.4 L568.1 327.4 L567.2 328.7 L568.1 329.8 L567.5 331.1 L568.4 332.2 L568.7 333.4 L568.4 334.6 L569.0 335.8 L568.0 337.1 L568.7 338.2 L568.5 339.4 L568.8 340.0" fill="none" stroke="#808285" stroke-width="2.1" stroke-linejoin="round" stroke-miterlimit="3" stroke-linecap="round" />
<path d="M568.8 340.0 L569.5 347.5 L570.0 390.0 L570.0 481.2 L576.2 410.5 L577.0 500.0 L577.3 531.7 L615.0 539.0 L633.3 440.0 L636.2 390.0 L637.0 330.0 L638.8 305.0 L641.2 280.0 L643.8 262.5 L647.5 245.0" fill="none" stroke="#808285" stroke-width="1.8" stroke-linejoin="round" stroke-miterlimit="3" stroke-linecap="round" />
<path d="M647.5 245.0 L648.1 244.5 L647.5 243.1 L648.1 242.0 L649.0 241.0 L648.4 239.6 L649.6 238.7 L649.8 237.5 L649.7 236.2 L649.8 235.0 L650.8 234.0 L650.6 232.7 L651.3 231.7 L651.1 230.3 L652.3 229.6 L652.0 228.2 L653.3 227.4 L653.1 226.1 L654.1 225.3 L654.0 224.0 L655.1 223.2 L655.0 222.5" fill="none" stroke="#808285" stroke-width="2.0" stroke-linejoin="round" stroke-miterlimit="3" stroke-linecap="round" />
<path d="M655.0 222.5 L654.3 221.2 L656.6 221.6 L657.7 221.0 L656.9 218.9 L658.6 218.8 L658.6 217.3 L660.5 217.3 L661.1 216.9 L660.6 214.4 L662.8 215.6 L663.2 214.4 L663.1 212.5 L665.4 213.9 L665.0 211.2 L666.8 212.4 L667.0 210.3 L668.9 211.6 L669.0 209.2 L670.1 210.9 L671.4 210.2 L671.9 211.4 L673.8 211.1 L673.7 212.3 L674.2 213.3 L673.7 214.8 L675.7 214.8 L674.7 216.6 L676.6 216.7 L675.2 218.5 L677.2 218.9 L676.3 220.3 L676.3 221.5 L678.9 221.7 L677.5 223.3 L679.3 223.8 L679.9 224.7 L680.4 225.6 L681.0 226.6 L680.0 227.5" fill="none" stroke="#808285" stroke-width="2.2" stroke-linejoin="round" stroke-miterlimit="3" stroke-linecap="round" />
<path d="M680.0 227.5 L680.4 228.0 L680.3 229.3 L681.2 230.2 L681.8 231.3 L681.1 232.8 L682.0 233.7 L682.6 234.8 L682.2 236.1 L683.3 237.0 L683.6 238.2 L683.4 239.5 L684.1 240.5 L683.7 241.9 L684.3 242.9 L685.0 244.0 L684.9 245.2 L685.9 246.2 L685.3 247.6 L686.4 248.5 L686.5 249.7 L686.4 251.0 L686.5 252.2 L686.8 253.3 L687.0 254.5 L687.9 255.5 L687.6 256.8 L688.6 257.7 L688.0 259.0 L688.3 260.2 L689.1 261.2 L688.8 262.4 L688.9 263.6 L689.7 264.6 L689.2 265.9 L690.6 266.8 L690.0 267.5" fill="none" stroke="#808285" stroke-width="2.0" stroke-linejoin="round" stroke-miterlimit="3" stroke-linecap="round" />
<path d="M690.0 267.5 L691.2 292.5 L693.0 330.0 L693.6 359.4" fill="none" stroke="#808285" stroke-width="1.8" stroke-linejoin="round" stroke-miterlimit="3" stroke-linecap="round" />
<path d="M694.2 360.0 L695.6 384.0" fill="none" stroke="#808285" stroke-width="3.2" stroke-linejoin="round" stroke-miterlimit="3" stroke-linecap="round" />
<path d="M695.6 384.0 L696.7 409.4 L697.3 518.3" fill="none" stroke="#808285" stroke-width="1.8" stroke-linejoin="round" stroke-miterlimit="3" stroke-linecap="round" />
<path d="M131.2 1182.5 L151.8 1055.0 L172.5 1026.0 L193.8 1005.0 L213.3 990.0 L214.2 1024.0 L233.3 992.5 L235.8 1023.0 L253.3 985.0 L256.3 1036.0 L273.3 1004.0 L294.2 988.0 L295.8 1040.0 L314.2 1001.7 L314.7 1008.3 L334.7 990.0 L336.3 1018.3 L354.2 993.3 L355.8 1030.8 L374.7 989.2 L376.3 1030.8 L395.0 993.3 L396.7 1020.8 L416.3 978.3 L417.5 995.0 L420.0 1011.7 L436.9 974.4 L439.0 985.0 L443.8 1021.0 L457.0 980.0 L458.5 1014.0 L475.8 977.5 L478.0 1000.0 L480.0 1013.3 L496.3 984.2 L498.0 1000.0 L499.2 1013.3 L516.3 978.3 L519.0 1000.0 L522.5 1022.5 L536.7 977.5 L539.2 1016.7 L556.2 1008.5 L556.7 1010.0 L577.5 993.8 L577.8 1026.0 L597.5 969.5 L601.8 1026.2" fill="none" stroke="#1a1718" stroke-width="1.9" stroke-linejoin="round" stroke-miterlimit="3" stroke-linecap="round" />
<path d="M212.0 1083.8 L236.7 1023.0 L253.3 980.0 L255.0 1069.0 L273.3 1005.0 L273.7 1028.3 L296.7 1030.8 L435.0 1005.0 L435.0 1058.8 L457.0 975.0 L457.0 1065.0 L479.0 978.0 L479.2 1063.8 L497.5 1020.0 L516.3 985.0 L517.0 1082.5 L537.0 975.8 L538.3 1018.3 L540.8 1033.3 L555.5 1068.8 L576.2 1060.5 L616.2 1016.2 L616.8 1032.5" fill="none" stroke="#6d6e71" stroke-width="2.0" stroke-linejoin="round" stroke-miterlimit="3" stroke-linecap="round" />
<path d="M111.2 1162.0 L120.0 1120.0 L131.2 1062.5 L151.8 1021.0 L172.5 1006.0 L173.0 1015.0 L193.3 993.5 L194.2 1055.0 L213.6 992.0 L214.9 1026.0 L233.9 994.5 L236.3 1024.5 L253.5 981.0 L254.8 1067.0 L273.5 1005.5 L274.0 1023.0 L296.7 1030.8 L435.0 989.4 L435.2 1054.0 L456.8 971.0 L457.2 1060.0 L478.8 980.0 L479.0 1025.0 L495.0 1027.5 L516.3 985.0 L517.5 987.0 L536.7 986.3 L539.2 999.2 L596.2 1055.0 L617.0 996.2 L618.0 1072.5 L638.8 962.5 L640.0 1062.5 L698.0 987.5 L698.8 1078.8" fill="none" stroke="#7b7d80" stroke-width="2.0" stroke-linejoin="round" stroke-miterlimit="3" stroke-linecap="round" />
<path d="M212.0 1123.8 L220.0 1090.0 L231.2 1040.0 L241.2 1015.0 L255.0 997.0 L273.8 976.2" fill="none" stroke="#6d6e71" stroke-width="2.0" stroke-linejoin="round" stroke-miterlimit="3" stroke-linecap="round" />
<path d="M273.8 976.2 L274.4 972.6 L275.6 970.2 L277.2 961.4 L279.1 959.7 L280.9 950.5 L282.8 950.0 L285.0 942.2 L287.2 944.0 L289.1 941.7 L290.9 945.2 L292.8 939.5 L294.6 945.4 L296.2 944.2 L297.8 947.3 L299.2 939.8 L300.9 939.3 L302.8 928.8 L304.7 927.6 L306.6 919.4 L308.4 918.8 L310.3 912.1 L312.1 913.8 L313.7 907.5 L315.6 911.5 L317.7 909.7 L319.7 915.8 L321.6 916.2 L323.4 923.5 L325.3 925.0 L327.2 932.9 L329.1 934.1 L330.9 940.4 L332.8 941.1 L334.7 944.6 L336.6 936.3 L338.4 935.5 L340.3 925.6 L342.2 928.1 L344.1 918.5 L345.9 917.0 L347.8 906.4 L349.4 903.6 L350.6 894.5 L351.9 893.9 L353.1 882.5 L354.4 884.8 L355.6 875.2 L356.9 874.6 L358.1 865.3 L359.4 863.9 L360.8 854.4 L362.2 854.2 L363.8 848.9 L365.4 852.7 L367.5 846.8 L369.2 857.4 L370.0 859.6 L370.8 867.1 L371.5 868.9 L371.9 876.5 L372.3 878.7 L372.8 886.0 L373.0 887.5" fill="none" stroke="#6d6e71" stroke-width="2.7" stroke-linejoin="miter" stroke-miterlimit="3" stroke-linecap="round" />
<path d="M436.5 960.0 L438.3 955.8 L440.5 975.0 L442.0 1000.0" fill="none" stroke="#6d6e71" stroke-width="3.0" stroke-linejoin="round" stroke-miterlimit="3" stroke-linecap="round" />
<path d="M442.0 1000.0 L443.8 1021.2 L456.2 970.0 L458.3 955.0 L461.2 950.0" fill="none" stroke="#6d6e71" stroke-width="2.2" stroke-linejoin="round" stroke-miterlimit="3" stroke-linecap="round" />
<path d="M373.0 887.5 L375.0 900.0 L376.8 917.5 L378.0 942.5 L378.8 990.0 L379.7 1028.3 L435.0 975.6 L436.5 960.0" fill="none" stroke="#6d6e71" stroke-width="2.0" stroke-linejoin="round" stroke-miterlimit="3" stroke-linecap="round" />
<path d="M461.2 950.0 L461.5 946.1 L461.9 944.7 L462.3 935.5 L462.9 935.0 L463.6 927.4 L464.4 925.8 L465.1 918.4 L466.3 916.8 L467.9 906.8 L469.7 903.5 L471.6 894.8 L473.3 891.8 L475.0 882.0 L476.7 885.8 L478.3 875.0 L480.0 878.7 L481.7 870.2 L483.3 869.6 L485.0 863.5 L486.7 864.0 L488.3 857.4 L490.0 858.1 L491.7 850.5 L493.3 851.8 L495.0 846.5 L496.7 848.9 L498.3 840.2 L500.0 846.4 L501.7 841.3 L503.3 845.3 L505.0 840.8 L506.7 844.9 L508.3 840.6 L510.0 847.6 L511.7 844.1 L513.3 849.4 L515.0 845.4 L516.7 850.8 L518.3 849.3 L520.0 855.1 L521.7 854.3 L523.4 861.1 L525.3 863.4 L527.2 872.0 L529.1 874.6 L530.9 884.0 L532.8 884.6 L534.7 895.6 L536.6 894.6 L538.3 901.2 L540.0 899.0 L541.7 903.3 L543.4 900.4 L545.3 901.1 L547.2 894.0 L549.1 894.4 L550.8 884.7 L552.5 889.2 L554.2 883.4 L555.8 885.8 L557.5 880.1 L559.2 881.6 L560.8 875.2 L562.5 879.0 L564.2 872.3 L565.8 875.7 L567.5 867.0 L569.2 874.2 L570.8 869.5 L572.5 869.8 L574.2 865.3 L575.9 866.7 L577.8 852.4 L579.4 854.5 L580.6 846.7 L581.9 845.7 L583.3 836.4 L585.0 836.6 L586.7 827.6 L588.4 827.6 L590.3 820.9 L592.1 821.7 L593.8 812.0 L595.4 817.6 L597.0 813.7 L598.6 815.3 L600.2 811.8 L601.7 814.3 L603.4 811.7 L605.3 814.8 L607.2 811.3 L609.1 816.0 L610.8 811.6 L612.3 814.1 L613.9 811.9 L615.5 816.0 L617.2 810.1 L619.1 810.2 L620.8 804.8 L622.5 804.9 L624.2 798.2 L625.8 797.8 L627.5 790.4 L629.2 788.7 L630.8 777.5 L632.5 780.6 L634.2 773.8 L635.8 771.9 L637.5 764.9 L639.2 764.8 L640.9 756.6 L642.8 756.7 L644.7 745.4 L646.6 743.8 L648.4 734.6 L650.3 734.4 L652.2 725.3 L654.1 725.6 L655.9 718.0 L657.8 718.3 L659.7 713.2 L661.6 714.8 L663.3 709.4 L665.0 712.1 L666.7 708.4 L668.4 710.3 L670.3 703.3 L672.2 710.1 L674.1 706.6 L675.9 710.0 L677.8 705.5 L679.7 709.8 L681.6 706.2 L683.4 711.0 L685.3 705.7 L687.2 709.1 L689.1 706.0 L690.9 708.3 L692.8 706.2 L694.7 709.6 L696.6 705.8 L698.3 709.3 L699.8 706.8 L701.4 711.2 L703.0 708.5 L704.5 712.9 L706.1 710.5 L707.7 715.6 L709.2 709.1 L710.8 717.8 L712.5 715.8 L714.2 721.6 L715.9 720.0 L717.8 728.4 L718.8 730.0" fill="none" stroke="#6d6e71" stroke-width="2.8" stroke-linejoin="miter" stroke-miterlimit="3" stroke-linecap="round" />
<path d="M617.5 881.2 L618.2 840.0 L619.5 805.0 L621.2 780.0 L623.8 755.0 L626.2 737.5 L629.5 723.8" fill="none" stroke="#bdbfc1" stroke-width="2.1" stroke-linejoin="round" stroke-miterlimit="3" stroke-linecap="round" />
<path d="M629.5 723.8 L629.4 722.8 L631.0 722.4 L631.0 720.8 L632.9 720.6 L632.9 718.9 L633.7 719.5 L635.3 719.9 L634.6 721.8 L636.4 722.1 L636.4 723.5 L637.8 724.1 L638.0 725.5 L637.7 726.7 L638.7 727.6 L637.6 729.1 L639.0 729.9 L639.5 731.0 L639.0 732.3 L640.2 733.2 L640.4 734.3 L640.0 735.0" fill="none" stroke="#bdbfc1" stroke-width="2.6" stroke-linejoin="round" stroke-miterlimit="3" stroke-linecap="round" />
<path d="M640.0 735.0 L642.5 747.5 L645.0 765.0 L647.5 785.0 L650.0 805.0 L652.5 825.0 L654.2 840.0 L656.2 857.5 L658.0 890.0 L659.5 925.0 L660.2 957.5 L661.2 930.0" fill="none" stroke="#bdbfc1" stroke-width="2.1" stroke-linejoin="round" stroke-miterlimit="3" stroke-linecap="round" />
<path d="M661.2 930.0 L661.9 928.5 L663.1 931.3 L664.4 922.7 L665.9 924.5 L667.8 917.5 L669.6 917.6 L671.2 914.0 L672.9 914.2 L674.5 910.5 L676.1 912.0 L677.7 909.3 L679.2 910.2 L680.8 906.5 L682.2 908.5 L683.8 905.4 L685.2 906.5 L686.8 902.4 L688.3 904.3 L690.0 900.3 L691.7 903.0 L693.2 899.4 L694.8 900.8 L696.2 895.8 L697.8 900.6 L699.2 898.9 L700.8 901.3 L702.2 897.1 L703.8 902.1 L705.2 900.1 L706.8 902.9 L708.2 900.9 L709.8 904.7 L711.2 900.6 L712.8 903.9 L714.2 902.7 L715.9 905.1 L717.8 904.3 L718.8 906.2" fill="none" stroke="#bdbfc1" stroke-width="2.5" stroke-linejoin="miter" stroke-miterlimit="3" stroke-linecap="round" />
</g>
<g id="labels">
<text x="97.8" y="21.4" font-size="29.5" text-anchor="end" fill="#231f20" >10</text>
<text x="97.8" y="179.7" font-size="29.5" text-anchor="end" fill="#231f20" >1</text>
<text x="97.8" y="338.0" font-size="29.5" text-anchor="end" fill="#231f20" >0.1</text>
<text x="97.8" y="496.3" font-size="29.5" text-anchor="end" fill="#231f20" >0.01</text>
<text x="97.8" y="694.3" font-size="29.5" text-anchor="end" fill="#231f20" >10</text>
<text x="97.8" y="818.9" font-size="29.5" text-anchor="end" fill="#231f20" >1</text>
<text x="97.8" y="943.5" font-size="29.5" text-anchor="end" fill="#231f20" >0.1</text>
<text x="97.8" y="1068.1" font-size="29.5" text-anchor="end" fill="#231f20" >0.01</text>
<text x="97.8" y="1192.7" font-size="29.5" text-anchor="end" fill="#231f20" >0.001</text>
<text x="212.4" y="1219.3" font-size="29.5" text-anchor="middle" fill="#231f20" >100</text>
<text x="414.6" y="1219.3" font-size="29.5" text-anchor="middle" fill="#231f20" >200</text>
<text x="616.8" y="1219.3" font-size="29.5" text-anchor="middle" fill="#231f20" >300</text>
<text transform="translate(257.5,1271.6) scale(1.085,1)" font-size="34" fill="#231f20" >Temperature (<tspan font-size="20" dy="-11.5">o</tspan><tspan dy="11.5">C)</tspan></text>
<text transform="translate(25.2,666) rotate(-90)" font-size="32.6" fill="#231f20">dT/dt (oC/min)</text>
<rect x="134" y="28.2" width="408.3" height="157.3" fill="#fff" stroke="#231f20" stroke-width="1.3"/>
<line x1="144.00" y1="52.50" x2="240.00" y2="52.50" stroke="#d3d7da" stroke-width="1.9" stroke-linecap="butt"/>
<line x1="144.00" y1="107.50" x2="240.00" y2="107.50" stroke="#85878a" stroke-width="1.9" stroke-linecap="butt"/>
<line x1="144.00" y1="160.00" x2="240.00" y2="160.00" stroke="#808285" stroke-width="1.9" stroke-linecap="butt"/>
<text transform="translate(250.0,60.0) scale(1.090,1)" font-size="25.5" fill="#231f20" >Na</text>
<text transform="translate(285.5,67.2) scale(0.905,1)" font-size="18.4" fill="#231f20" >0.5</text>
<text transform="translate(308.9,60.0) scale(1.090,1)" font-size="25.5" fill="#231f20" >CrO</text>
<text transform="translate(359.8,67.2) scale(0.905,1)" font-size="18.4" fill="#231f20" >2</text>
<text transform="translate(375.4,60.0) scale(1.090,1)" font-size="25.5" fill="#231f20" >in electrolyte</text>
<text transform="translate(250.0,99.0) scale(1.090,1)" font-size="25.5" fill="#231f20" >Na</text>
<text transform="translate(285.5,106.2) scale(0.905,1)" font-size="18.4" fill="#231f20" >0.5</text>
<text transform="translate(308.9,99.0) scale(1.090,1)" font-size="25.5" fill="#231f20" >CrO</text>
<text transform="translate(359.8,106.2) scale(0.905,1)" font-size="18.4" fill="#231f20" >2</text>
<text transform="translate(375.4,99.0) scale(1.090,1)" font-size="25.5" fill="#231f20" >in electrolyte</text>
<text transform="translate(250.0,135.2) scale(1.090,1)" font-size="25.5" fill="#231f20" >(duplicate run)</text>
<text transform="translate(250.5,168.3) scale(1.090,1)" font-size="25.5" fill="#231f20" >electrolyte</text>
<rect x="136.7" y="609" width="431" height="210.3" fill="#fff" stroke="#231f20" stroke-width="1.3"/>
<line x1="146.00" y1="632.70" x2="243.30" y2="632.70" stroke="#1a1718" stroke-width="1.9" stroke-linecap="butt"/>
<line x1="146.00" y1="672.30" x2="243.30" y2="672.30" stroke="#7b7d80" stroke-width="1.9" stroke-linecap="butt"/>
<line x1="146.00" y1="712.30" x2="243.30" y2="712.30" stroke="#6d6e71" stroke-width="1.9" stroke-linecap="butt"/>
<line x1="146.00" y1="752.30" x2="243.30" y2="752.30" stroke="#6d6e71" stroke-width="1.9" stroke-linecap="butt"/>
<line x1="146.00" y1="791.70" x2="243.30" y2="791.70" stroke="#bdbfc1" stroke-width="1.9" stroke-linecap="butt"/>
<text transform="translate(253.2,640.0) scale(1.090,1)" font-size="25.5" fill="#231f20" >Na</text>
<text transform="translate(288.7,647.2) scale(0.905,1)" font-size="18.4" fill="#231f20" >0.5</text>
<text transform="translate(312.1,640.0) scale(1.090,1)" font-size="25.5" fill="#231f20" >CrO</text>
<text transform="translate(363.0,647.2) scale(0.905,1)" font-size="18.4" fill="#231f20" >2</text>
<text transform="translate(253.2,680.0) scale(1.090,1)" font-size="25.5" fill="#231f20" >Na</text>
<text transform="translate(288.7,687.2) scale(0.905,1)" font-size="18.4" fill="#231f20" >0.5</text>
<text transform="translate(312.1,680.0) scale(1.090,1)" font-size="25.5" fill="#231f20" >CrO</text>
<text transform="translate(363.0,687.2) scale(0.905,1)" font-size="18.4" fill="#231f20" >2</text>
<text transform="translate(378.6,680.0) scale(1.090,1)" font-size="25.5" fill="#231f20" >(duplicate run)</text>
<text transform="translate(253.2,720.0) scale(1.090,1)" font-size="25.5" fill="#231f20" >Na</text>
<text transform="translate(288.7,727.2) scale(0.905,1)" font-size="18.4" fill="#231f20" >0.5</text>
<text transform="translate(312.1,720.0) scale(1.090,1)" font-size="25.5" fill="#231f20" >CrO</text>
<text transform="translate(363.0,727.2) scale(0.905,1)" font-size="18.4" fill="#231f20" >2</text>
<text transform="translate(378.6,720.0) scale(1.090,1)" font-size="25.5" fill="#231f20" >to 350</text>
<text transform="translate(455.9,714.5) scale(1.000,1)" font-size="17" fill="#231f20" >°</text>
<text transform="translate(462.2,720.0) scale(1.090,1)" font-size="25.5" fill="#231f20" >C</text>
<text transform="translate(253.2,759.5) scale(1.090,1)" font-size="25.5" fill="#231f20" >Li</text>
<text transform="translate(274.8,766.7) scale(0.905,1)" font-size="18.4" fill="#231f20" >0.5</text>
<text transform="translate(298.2,759.5) scale(1.090,1)" font-size="25.5" fill="#231f20" >CoO</text>
<text transform="translate(355.3,766.7) scale(0.905,1)" font-size="18.4" fill="#231f20" >2</text>
<text transform="translate(253.2,799.5) scale(1.090,1)" font-size="25.5" fill="#231f20" >Li</text>
<text transform="translate(274.8,806.7) scale(0.905,1)" font-size="18.4" fill="#231f20" >0</text>
<text transform="translate(284.3,799.5) scale(1.090,1)" font-size="25.5" fill="#231f20" >FePO</text>
<text transform="translate(356.9,806.7) scale(0.905,1)" font-size="18.4" fill="#231f20" >4</text>
</g>
</svg>
</body></html>
